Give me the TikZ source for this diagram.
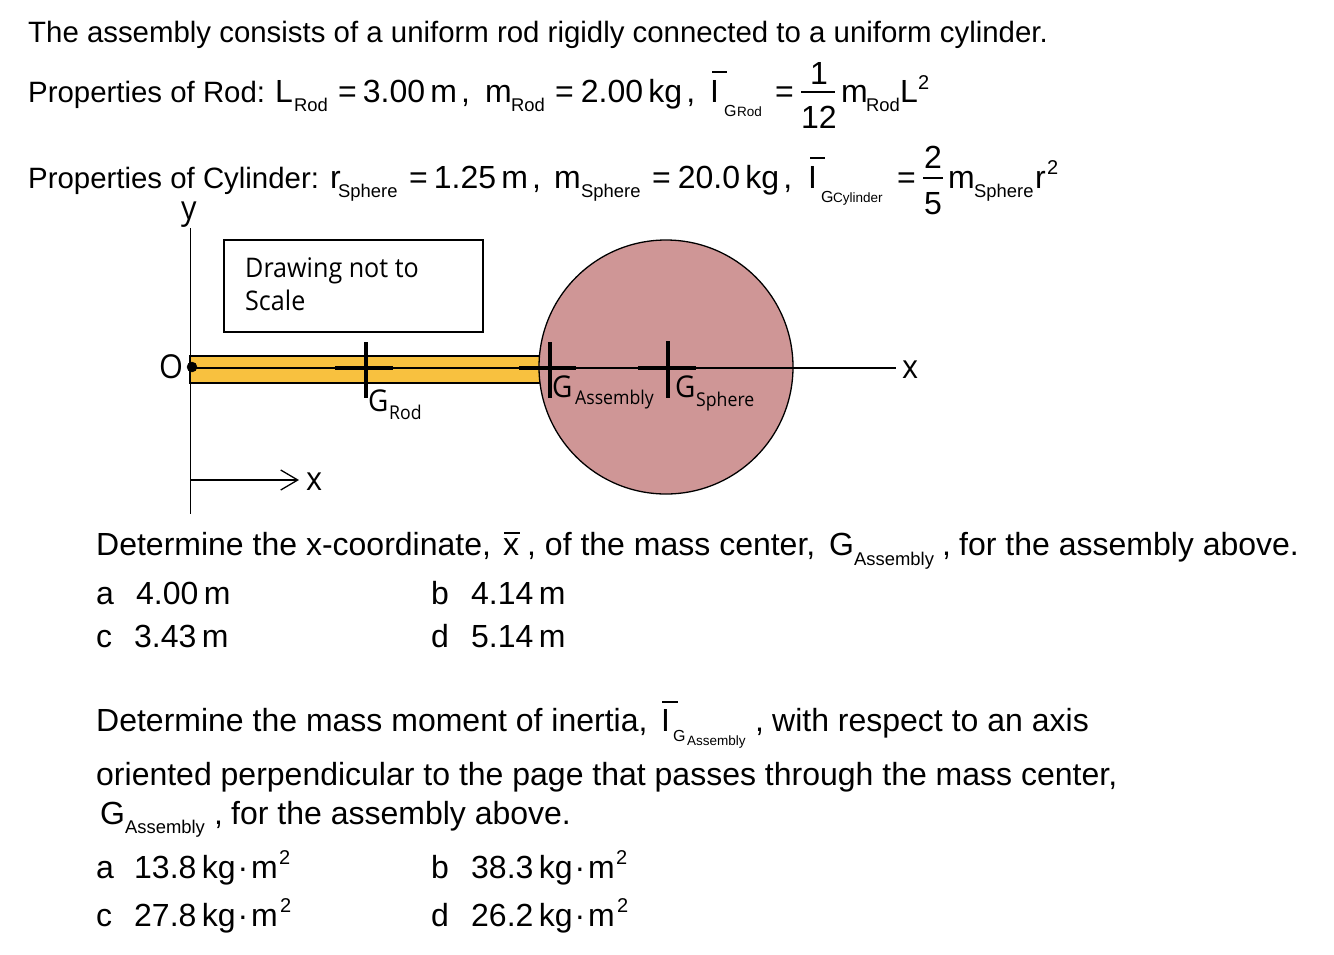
\documentclass[tikz,border=0pt]{standalone}
\usepackage{fontspec}
\setmainfont{Liberation Sans}
\newfontfamily\figfont[FakeStretch=0.93]{Open Sans}
\usetikzlibrary{arrows.meta}
\definecolor{rodfill}{HTML}{F8C13F}
\definecolor{cylfill}{HTML}{CF9696}

\tikzset{
  txt/.style = {anchor = base west, inner sep = 0pt, font = \fontsize{32}{38}\selectfont},
  titletxt/.style = {txt, font = \fontsize{29.4}{35}\selectfont},
  subtxt/.style = {txt, font = \fontsize{18.4}{22}\selectfont},
  exptxt/.style = {txt, font = \fontsize{20}{24}\selectfont},
  smalltxt/.style = {txt, font = \fontsize{16}{20}\selectfont},
  tinytxt/.style = {txt, font = \fontsize{13.5}{16}\selectfont},
  figtxt/.style = {txt, font = \figfont\fontsize{27}{33}\selectfont},
  figgee/.style = {txt, font = \figfont\fontsize{30}{36}\selectfont},
  figbig/.style = {txt, font = \figfont\fontsize{33}{40}\selectfont},
  figsub/.style = {txt, font = \figfont\fontsize{19}{23}\selectfont},
  gmark/.style = {line width = 4pt},
  thinline/.style = {line width = 1.3pt}
}

\begin{document}
\begin{tikzpicture}[x = 1pt, y = -1pt]
\useasboundingbox (0, 0) rectangle (1334, 954);

% header
\node[titletxt] (intro) at (28, 42) {The assembly consists of a uniform rod rigidly connected to a uniform cylinder.};

% rod properties
\node[titletxt] (rodtitle) at (28, 102) {Properties of Rod:};
\node[txt] (rodL) at (275, 102) {L};
\node[subtxt] (rodLsub) at (294, 111) {Rod};
\node[txt] (rodLval) at (338, 102) {=\kern6pt 3.00\,m\kern4pt,};
\node[txt] (rodm) at (485, 102) {m};
\node[subtxt] (rodmsub) at (511, 111) {Rod};
\node[txt] (rodmval) at (555, 102) {=\kern7pt 2.00\,kg\kern4pt,};
\node[txt] (rodI) at (710, 102) {I};
\node[smalltxt] (rodIG) at (724, 116) {G};
\node[tinytxt] (rodIsub) at (737, 116) {Rod};
\node[txt] (rodeq) at (775, 102) {=};
\node[txt] (rodnum) at (810, 84) {1};
\node[txt] (roddenom) at (801, 128) {12};
\node[txt] (rodfm) at (841, 102) {m};
\node[subtxt] (rodfmsub) at (866, 111) {Rod};
\node[txt] (rodfL) at (900, 102) {L};
\node[exptxt] (rodfexp) at (918, 89) {2};
\draw[thinline] (712, 72) -- (727, 72);
\draw[thinline] (801, 92) -- (835, 92);

% cylinder properties
\node[titletxt] (cyltitle) at (28, 188) {Properties of Cylinder:};
\node[txt] (cylr) at (330, 188) {r};
\node[subtxt] (cylrsub) at (338, 197) {Sphere};
\node[txt] (cylrval) at (409, 188) {=\kern6pt 1.25\,m\kern4pt,};
\node[txt] (cylm) at (554, 188) {m};
\node[subtxt] (cylmsub) at (581, 197) {Sphere};
\node[txt] (cylmval) at (652, 188) {=\kern7pt 20.0\,kg\kern4pt,};
\node[txt] (cylI) at (808, 188) {I};
\node[smalltxt] (cylIG) at (821, 202) {G};
\node[tinytxt] (cylIsub) at (833, 202) {Cylinder};
\node[txt] (cyleq) at (897, 188) {=};
\node[txt] (cylnum) at (924, 168) {2};
\node[txt] (cyldenom) at (924, 214) {5};
\node[txt] (cylfm) at (948, 188) {m};
\node[subtxt] (cylfmsub) at (974, 197) {Sphere};
\node[txt] (cylfr) at (1035, 188) {r};
\node[exptxt] (cylfexp) at (1047, 174) {2};
\draw[thinline] (810, 158) -- (825, 158);
\draw[thinline] (923, 178) -- (943, 178);

% figure
\node[figbig] (ylabel) at (181, 219) {y};
\node[figbig] (origin) at (159, 378) {O};
\node[figbig] (xlabel) at (902, 378) {x};
\node[figbig] (xarrowlabel) at (306, 490) {x};
\draw[fill = rodfill, thinline] (190, 356) rectangle (540, 383);
\draw[fill = cylfill, thinline] (666, 367) circle (127);
\draw[thinline] (190.5, 228) -- (190.5, 514);
\draw[thinline] (190, 368) -- (896, 368);
\draw[fill = black] (192, 367) circle (5);
\draw[thinline] (224, 240) rectangle (483, 332);
\node[figtxt] (note1) at (245, 277) {Drawing not to};
\node[figtxt] (note2) at (245, 310) {Scale};
\draw[thinline, -{Straight Barb[length = 17pt, width = 20pt]}] (190, 480) -- (299, 480);

% mass centers
\draw[gmark] (335, 368) -- (393, 368);
\draw[gmark] (366, 342) -- (366, 398);
\draw[gmark] (519, 368) -- (576, 368);
\draw[gmark] (550, 342) -- (550, 398);
\draw[gmark] (638, 368) -- (696, 368);
\draw[gmark] (668, 341) -- (668, 398);
\node[figgee] (grod) at (368, 411) {G};
\node[figsub] (grodsub) at (389, 419) {Rod};
\node[figgee] (gass) at (552, 397) {G};
\node[figsub] (gasssub) at (575, 404) {Assembly};
\node[figgee] (gsph) at (675, 397) {G};
\node[figsub] (gsphsub) at (696, 406) {Sphere};

% first question
\node[txt] (q1a) at (96, 555) {Determine the x-coordinate,};
\node[txt] (q1x) at (503, 555) {x};
\node[txt] (q1b) at (527, 555) {, of the mass center,};
\node[txt] (q1g) at (829, 555) {G};
\node[subtxt] (q1sub) at (854, 565) {Assembly};
\node[txt] (q1c) at (942, 555) {,};
\node[txt] (q1d) at (959, 555) {for the assembly above.};
\draw[thinline] (504, 533) -- (520, 533);
\node[txt] (q1opta) at (96, 604) {a};
\node[txt] (q1vala) at (136, 604) {4.00\,m};
\node[txt] (q1optb) at (431, 604) {b};
\node[txt] (q1valb) at (471, 604) {4.14\,m};
\node[txt] (q1optc) at (96, 647) {c};
\node[txt] (q1valc) at (134, 647) {3.43\,m};
\node[txt] (q1optd) at (431, 647) {d};
\node[txt] (q1vald) at (471, 647) {5.14\,m};

% second question
\node[txt] (q2a) at (96, 731) {Determine the mass moment of inertia,};
\node[txt] (q2i) at (661, 731) {I};
\node[smalltxt] (q2g) at (673, 741) {G};
\node[tinytxt] (q2sub) at (687, 745) {Assembly};
\node[txt] (q2b) at (755, 731) {,};
\node[txt] (q2c) at (772, 731) {with respect to an axis};
\draw[thinline] (662, 702) -- (678, 702);
\node[txt] (q2d) at (96, 785) {oriented perpendicular to the page that passes through the mass center,};
\node[txt] (q2e) at (100, 824) {G};
\node[subtxt] (q2esub) at (125, 833) {Assembly};
\node[txt] (q2f) at (214, 824) {,};
\node[txt] (q2h) at (231, 824) {for the assembly above.};
\node[txt] (q2opta) at (96, 878) {a};
\node[txt] (q2vala) at (134, 878) {13.8\,kg\kern2pt{\textperiodcentered}\kern3pt m};
\node[exptxt] (q2expa) at (279, 864) {2};
\node[txt] (q2optb) at (431, 878) {b};
\node[txt] (q2valb) at (471, 878) {38.3\,kg\kern2pt{\textperiodcentered}\kern3pt m};
\node[exptxt] (q2expb) at (616, 864) {2};
\node[txt] (q2optc) at (96, 926) {c};
\node[txt] (q2valc) at (134, 926) {27.8\,kg\kern2pt{\textperiodcentered}\kern3pt m};
\node[exptxt] (q2expc) at (280, 912) {2};
\node[txt] (q2optd) at (431, 926) {d};
\node[txt] (q2vald) at (471, 926) {26.2\,kg\kern2pt{\textperiodcentered}\kern3pt m};
\node[exptxt] (q2expd) at (617, 912) {2};
\end{tikzpicture}
\end{document}
